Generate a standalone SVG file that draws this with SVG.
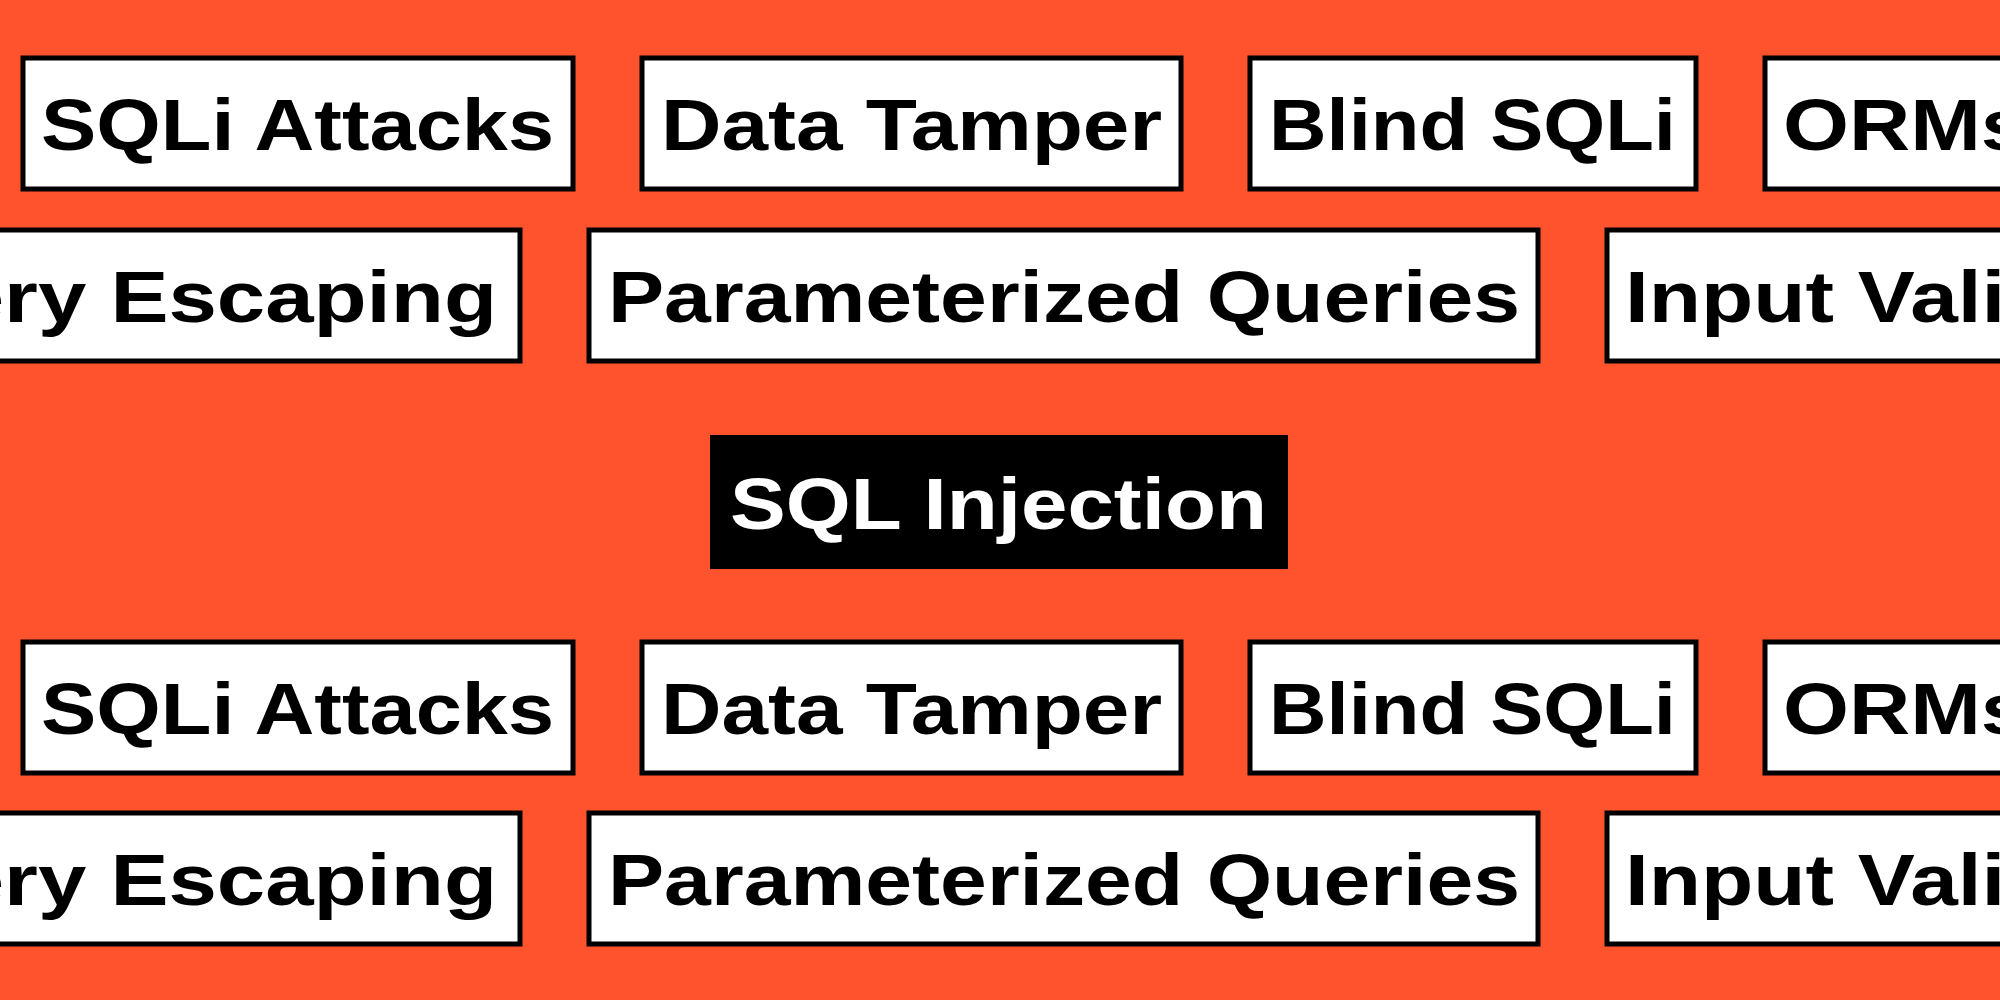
<svg xmlns="http://www.w3.org/2000/svg" width="2000" height="1000" viewBox="0 0 2000 1000">
<style>
.b{fill:#fff;stroke:#000;stroke-width:5}
.t{font-family:"Liberation Sans",Arial,sans-serif;font-weight:bold;font-size:72px;fill:#000}
.w{fill:#fff}
</style>
<rect width="2000" height="1000" fill="#FF532D"/>
<g id="row1">
<g id="n1"><rect class="b" x="23" y="58" width="550" height="131"/><text class="t" x="41" y="150" textLength="513" lengthAdjust="spacingAndGlyphs">SQLi Attacks</text></g>
<g id="n2"><rect class="b" x="642" y="58" width="539" height="131"/><text class="t" x="661" y="150" textLength="501" lengthAdjust="spacingAndGlyphs">Data Tamper</text></g>
<g id="n3"><rect class="b" x="1250" y="58" width="446" height="131"/><text class="t" x="1269" y="150" textLength="407" lengthAdjust="spacingAndGlyphs">Blind SQLi</text></g>
<g id="n4"><rect class="b" x="1765" y="58" width="300" height="131"/><text class="t" x="1783" y="150" textLength="245" lengthAdjust="spacingAndGlyphs">ORMs</text></g>
</g>
<g id="row2">
<g id="n5"><rect class="b" x="-200" y="230" width="720" height="131"/><text class="t" x="-165" y="322" textLength="662" lengthAdjust="spacingAndGlyphs">Query Escaping</text></g>
<g id="n6"><rect class="b" x="589" y="230" width="949" height="131"/><text class="t" x="608" y="322" textLength="912" lengthAdjust="spacingAndGlyphs">Parameterized Queries</text></g>
<g id="n7"><rect class="b" x="1607" y="230" width="680" height="131"/><text class="t" x="1625" y="322" textLength="637" lengthAdjust="spacingAndGlyphs">Input Validation</text></g>
</g>
<g id="center"><rect x="710" y="435" width="578" height="134" fill="#000"/><text class="t w" x="730" y="529" textLength="537" lengthAdjust="spacingAndGlyphs">SQL Injection</text></g>
<g id="row3">
<g id="n8"><rect class="b" x="23" y="642" width="550" height="131"/><text class="t" x="41" y="734" textLength="513" lengthAdjust="spacingAndGlyphs">SQLi Attacks</text></g>
<g id="n9"><rect class="b" x="642" y="642" width="539" height="131"/><text class="t" x="661" y="734" textLength="501" lengthAdjust="spacingAndGlyphs">Data Tamper</text></g>
<g id="n10"><rect class="b" x="1250" y="642" width="446" height="131"/><text class="t" x="1269" y="734" textLength="407" lengthAdjust="spacingAndGlyphs">Blind SQLi</text></g>
<g id="n11"><rect class="b" x="1765" y="642" width="300" height="131"/><text class="t" x="1783" y="734" textLength="245" lengthAdjust="spacingAndGlyphs">ORMs</text></g>
</g>
<g id="row4">
<g id="n12"><rect class="b" x="-200" y="813" width="720" height="131"/><text class="t" x="-165" y="905" textLength="662" lengthAdjust="spacingAndGlyphs">Query Escaping</text></g>
<g id="n13"><rect class="b" x="589" y="813" width="949" height="131"/><text class="t" x="608" y="905" textLength="912" lengthAdjust="spacingAndGlyphs">Parameterized Queries</text></g>
<g id="n14"><rect class="b" x="1607" y="813" width="680" height="131"/><text class="t" x="1625" y="905" textLength="637" lengthAdjust="spacingAndGlyphs">Input Validation</text></g>
</g>
<g id="connectors"/>
</svg>
